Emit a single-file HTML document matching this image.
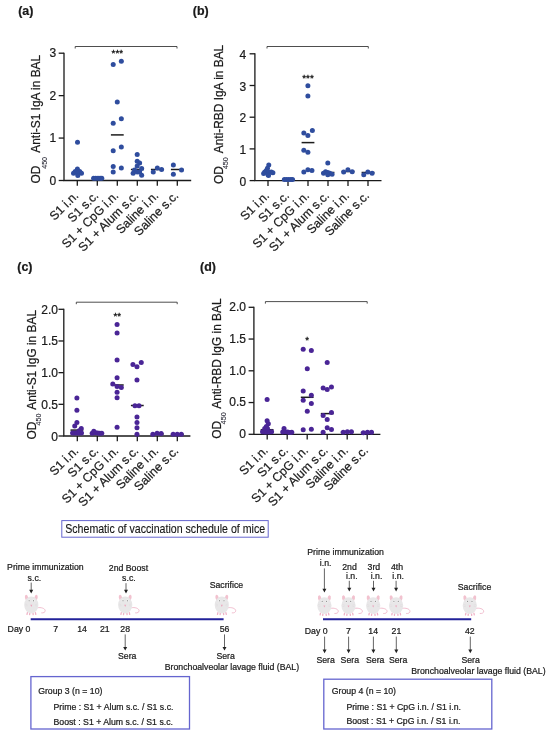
<!DOCTYPE html>
<html lang="en"><head><meta charset="utf-8"><title>Figure</title>
<style>
html,body{margin:0;padding:0;background:#fff;}
svg{display:block;font-family:"Liberation Sans", Arial, Helvetica, sans-serif;fill:#1a1a1a;}
text{stroke:#1a1a1a;stroke-width:0.22px;}
</style></head><body>
<svg width="550" height="738" viewBox="0 0 550 738">
<rect width="550" height="738" fill="#fff"/>
<text x="18.2" y="14.5" font-size="12.4" font-weight="bold">(a)</text>
<path d="M64.0 52.7V180.5H191.2" fill="none" stroke="#1a1a1a" stroke-width="1.3"/>
<path d="M58.7 180.50H64.0" stroke="#1a1a1a" stroke-width="1.3"/>
<text x="56.30" y="184.50" font-size="12" text-anchor="end">0</text>
<path d="M58.7 138.07H64.0" stroke="#1a1a1a" stroke-width="1.3"/>
<text x="56.30" y="142.07" font-size="12" text-anchor="end">1</text>
<path d="M58.7 95.63H64.0" stroke="#1a1a1a" stroke-width="1.3"/>
<text x="56.30" y="99.63" font-size="12" text-anchor="end">2</text>
<path d="M58.7 53.20H64.0" stroke="#1a1a1a" stroke-width="1.3"/>
<text x="56.30" y="57.20" font-size="12" text-anchor="end">3</text>
<path d="M77.3 180.5V185.8" stroke="#1a1a1a" stroke-width="1.3"/>
<text transform="translate(79.20 196.30) rotate(-45)" font-size="12.3" text-anchor="end">S1 i.n.</text>
<path d="M97.3 180.5V185.8" stroke="#1a1a1a" stroke-width="1.3"/>
<text transform="translate(99.20 196.30) rotate(-45)" font-size="12.3" text-anchor="end">S1 s.c.</text>
<path d="M117.3 180.5V185.8" stroke="#1a1a1a" stroke-width="1.3"/>
<text transform="translate(119.20 196.30) rotate(-45)" font-size="12.3" text-anchor="end">S1 + CpG i.n.</text>
<path d="M137.3 180.5V185.8" stroke="#1a1a1a" stroke-width="1.3"/>
<text transform="translate(139.20 196.30) rotate(-45)" font-size="12.3" text-anchor="end">S1 + Alum s.c.</text>
<path d="M157.3 180.5V185.8" stroke="#1a1a1a" stroke-width="1.3"/>
<text transform="translate(159.20 196.30) rotate(-45)" font-size="12.3" text-anchor="end">Saline i.n.</text>
<path d="M177.3 180.5V185.8" stroke="#1a1a1a" stroke-width="1.3"/>
<text transform="translate(179.20 196.30) rotate(-45)" font-size="12.3" text-anchor="end">Saline s.c.</text>
<g font-size="11.9"><text transform="translate(40.2 183.4) rotate(-90)">OD</text><text transform="translate(47.3 168.8) rotate(-90)" font-size="7.1" style="fill:#2a2a36;stroke:#2a2a36;stroke-width:0.1px">450</text><text transform="translate(40.2 152.7) rotate(-90)">Anti-S1 IgA in BAL</text></g>
<path d="M75.2 48.5V46.5H177V48.5" fill="none" stroke="#3a3a3a" stroke-width="0.9"/>
<text x="117.3" y="55.7" font-size="9.8" text-anchor="middle" style="fill:#111;stroke:#111;stroke-width:0.3px">***</text>
<path d="M110.90 134.90h12.8" stroke="#1c1c1c" stroke-width="1.5"/>
<path d="M130.90 169.50h12.8" stroke="#1c1c1c" stroke-width="1.5"/>
<path d="M150.90 169.50h12.8" stroke="#1c1c1c" stroke-width="1.5"/>
<path d="M170.90 169.50h12.8" stroke="#1c1c1c" stroke-width="1.5"/>
<circle cx="77.50" cy="142.30" r="2.5" fill="#2f4d9e"/>
<circle cx="77.40" cy="169.10" r="2.5" fill="#2f4d9e"/>
<circle cx="75.20" cy="171.60" r="2.5" fill="#2f4d9e"/>
<circle cx="79.70" cy="171.60" r="2.5" fill="#2f4d9e"/>
<circle cx="73.50" cy="173.30" r="2.5" fill="#2f4d9e"/>
<circle cx="77.50" cy="173.20" r="2.5" fill="#2f4d9e"/>
<circle cx="81.50" cy="173.30" r="2.5" fill="#2f4d9e"/>
<circle cx="77.80" cy="175.40" r="2.5" fill="#2f4d9e"/>
<circle cx="93.60" cy="178.20" r="2.5" fill="#2f4d9e"/>
<circle cx="95.80" cy="178.30" r="2.5" fill="#2f4d9e"/>
<circle cx="98.00" cy="178.30" r="2.5" fill="#2f4d9e"/>
<circle cx="100.10" cy="178.30" r="2.5" fill="#2f4d9e"/>
<circle cx="101.80" cy="178.20" r="2.5" fill="#2f4d9e"/>
<circle cx="113.21" cy="64.39" r="2.5" fill="#2f4d9e"/>
<circle cx="121.34" cy="61.34" r="2.5" fill="#2f4d9e"/>
<circle cx="117.28" cy="101.99" r="2.5" fill="#2f4d9e"/>
<circle cx="121.34" cy="118.66" r="2.5" fill="#2f4d9e"/>
<circle cx="113.21" cy="123.33" r="2.5" fill="#2f4d9e"/>
<circle cx="121.34" cy="147.11" r="2.5" fill="#2f4d9e"/>
<circle cx="113.21" cy="150.77" r="2.5" fill="#2f4d9e"/>
<circle cx="113.21" cy="166.42" r="2.5" fill="#2f4d9e"/>
<circle cx="121.34" cy="168.05" r="2.5" fill="#2f4d9e"/>
<circle cx="113.21" cy="172.11" r="2.5" fill="#2f4d9e"/>
<circle cx="137.20" cy="154.43" r="2.5" fill="#2f4d9e"/>
<circle cx="137.20" cy="161.34" r="2.5" fill="#2f4d9e"/>
<circle cx="139.63" cy="162.97" r="2.5" fill="#2f4d9e"/>
<circle cx="137.20" cy="166.02" r="2.5" fill="#2f4d9e"/>
<circle cx="141.67" cy="168.46" r="2.5" fill="#2f4d9e"/>
<circle cx="134.55" cy="170.08" r="2.5" fill="#2f4d9e"/>
<circle cx="133.13" cy="173.13" r="2.5" fill="#2f4d9e"/>
<circle cx="137.20" cy="172.11" r="2.5" fill="#2f4d9e"/>
<circle cx="139.63" cy="172.11" r="2.5" fill="#2f4d9e"/>
<circle cx="141.67" cy="175.16" r="2.5" fill="#2f4d9e"/>
<circle cx="153.25" cy="172.11" r="2.5" fill="#2f4d9e"/>
<circle cx="157.32" cy="168.05" r="2.5" fill="#2f4d9e"/>
<circle cx="161.59" cy="169.47" r="2.5" fill="#2f4d9e"/>
<circle cx="173.37" cy="165.00" r="2.5" fill="#2f4d9e"/>
<circle cx="181.50" cy="170.08" r="2.5" fill="#2f4d9e"/>
<circle cx="173.37" cy="174.15" r="2.5" fill="#2f4d9e"/>
<text x="192.8" y="14.6" font-size="12.4" font-weight="bold">(b)</text>
<path d="M254.9 53.3V180.6H381.5" fill="none" stroke="#1a1a1a" stroke-width="1.3"/>
<path d="M249.6 180.60H254.9" stroke="#1a1a1a" stroke-width="1.3"/>
<text x="246.10" y="185.60" font-size="12" text-anchor="end">0</text>
<path d="M249.6 148.90H254.9" stroke="#1a1a1a" stroke-width="1.3"/>
<text x="246.10" y="153.90" font-size="12" text-anchor="end">1</text>
<path d="M249.6 117.20H254.9" stroke="#1a1a1a" stroke-width="1.3"/>
<text x="246.10" y="122.20" font-size="12" text-anchor="end">2</text>
<path d="M249.6 85.50H254.9" stroke="#1a1a1a" stroke-width="1.3"/>
<text x="246.10" y="90.50" font-size="12" text-anchor="end">3</text>
<path d="M249.6 53.80H254.9" stroke="#1a1a1a" stroke-width="1.3"/>
<text x="246.10" y="58.80" font-size="12" text-anchor="end">4</text>
<path d="M268 180.6V185.9" stroke="#1a1a1a" stroke-width="1.3"/>
<text transform="translate(269.90 196.40) rotate(-45)" font-size="12.3" text-anchor="end">S1 i.n.</text>
<path d="M288 180.6V185.9" stroke="#1a1a1a" stroke-width="1.3"/>
<text transform="translate(289.90 196.40) rotate(-45)" font-size="12.3" text-anchor="end">S1 s.c.</text>
<path d="M308 180.6V185.9" stroke="#1a1a1a" stroke-width="1.3"/>
<text transform="translate(309.90 196.40) rotate(-45)" font-size="12.3" text-anchor="end">S1 + CpG i.n.</text>
<path d="M328 180.6V185.9" stroke="#1a1a1a" stroke-width="1.3"/>
<text transform="translate(329.90 196.40) rotate(-45)" font-size="12.3" text-anchor="end">S1 + Alum s.c.</text>
<path d="M348 180.6V185.9" stroke="#1a1a1a" stroke-width="1.3"/>
<text transform="translate(349.90 196.40) rotate(-45)" font-size="12.3" text-anchor="end">Saline i.n.</text>
<path d="M368 180.6V185.9" stroke="#1a1a1a" stroke-width="1.3"/>
<text transform="translate(369.90 196.40) rotate(-45)" font-size="12.3" text-anchor="end">Saline s.c.</text>
<g font-size="11.9"><text transform="translate(223.0 184.1) rotate(-90)">OD</text><text transform="translate(227.9 169.1) rotate(-90)" font-size="7.1" style="fill:#2a2a36;stroke:#2a2a36;stroke-width:0.1px">450</text><text transform="translate(223.0 153.2) rotate(-90)">Anti-RBD IgA in BAL</text></g>
<path d="M267 48.5V46.5H368.3V48.5" fill="none" stroke="#3a3a3a" stroke-width="0.9"/>
<text x="308" y="81.0" font-size="9.8" text-anchor="middle" style="fill:#111;stroke:#111;stroke-width:0.3px">***</text>
<path d="M301.60 142.60h12.8" stroke="#1c1c1c" stroke-width="1.5"/>
<path d="M321.60 172.50h12.8" stroke="#1c1c1c" stroke-width="1.5"/>
<path d="M341.60 171.50h12.8" stroke="#1c1c1c" stroke-width="1.5"/>
<path d="M361.60 172.50h12.8" stroke="#1c1c1c" stroke-width="1.5"/>
<circle cx="268.76" cy="165.11" r="2.5" fill="#2f4d9e"/>
<circle cx="267.45" cy="168.17" r="2.5" fill="#2f4d9e"/>
<circle cx="266.36" cy="170.57" r="2.5" fill="#2f4d9e"/>
<circle cx="264.72" cy="171.98" r="2.5" fill="#2f4d9e"/>
<circle cx="268.54" cy="171.98" r="2.5" fill="#2f4d9e"/>
<circle cx="271.26" cy="171.98" r="2.5" fill="#2f4d9e"/>
<circle cx="263.63" cy="173.62" r="2.5" fill="#2f4d9e"/>
<circle cx="267.99" cy="174.71" r="2.5" fill="#2f4d9e"/>
<circle cx="272.90" cy="172.75" r="2.5" fill="#2f4d9e"/>
<circle cx="268.54" cy="175.58" r="2.5" fill="#2f4d9e"/>
<circle cx="284.35" cy="179.62" r="2.5" fill="#2f4d9e"/>
<circle cx="286.53" cy="179.62" r="2.5" fill="#2f4d9e"/>
<circle cx="288.71" cy="179.62" r="2.5" fill="#2f4d9e"/>
<circle cx="290.89" cy="179.62" r="2.5" fill="#2f4d9e"/>
<circle cx="292.53" cy="179.62" r="2.5" fill="#2f4d9e"/>
<circle cx="307.89" cy="85.73" r="2.5" fill="#2f4d9e"/>
<circle cx="307.89" cy="95.89" r="2.5" fill="#2f4d9e"/>
<circle cx="312.36" cy="130.45" r="2.5" fill="#2f4d9e"/>
<circle cx="303.82" cy="132.89" r="2.5" fill="#2f4d9e"/>
<circle cx="307.89" cy="135.53" r="2.5" fill="#2f4d9e"/>
<circle cx="303.82" cy="150.16" r="2.5" fill="#2f4d9e"/>
<circle cx="307.89" cy="152.20" r="2.5" fill="#2f4d9e"/>
<circle cx="303.82" cy="172.11" r="2.5" fill="#2f4d9e"/>
<circle cx="307.89" cy="169.67" r="2.5" fill="#2f4d9e"/>
<circle cx="311.95" cy="170.49" r="2.5" fill="#2f4d9e"/>
<circle cx="327.80" cy="162.97" r="2.5" fill="#2f4d9e"/>
<circle cx="323.54" cy="173.13" r="2.5" fill="#2f4d9e"/>
<circle cx="325.57" cy="171.71" r="2.5" fill="#2f4d9e"/>
<circle cx="327.80" cy="172.52" r="2.5" fill="#2f4d9e"/>
<circle cx="329.84" cy="173.13" r="2.5" fill="#2f4d9e"/>
<circle cx="332.07" cy="174.15" r="2.5" fill="#2f4d9e"/>
<circle cx="327.80" cy="174.76" r="2.5" fill="#2f4d9e"/>
<circle cx="343.66" cy="172.11" r="2.5" fill="#2f4d9e"/>
<circle cx="347.93" cy="169.67" r="2.5" fill="#2f4d9e"/>
<circle cx="352.20" cy="171.71" r="2.5" fill="#2f4d9e"/>
<circle cx="363.78" cy="174.76" r="2.5" fill="#2f4d9e"/>
<circle cx="367.85" cy="172.11" r="2.5" fill="#2f4d9e"/>
<circle cx="372.11" cy="173.13" r="2.5" fill="#2f4d9e"/>
<text x="17.3" y="271.2" font-size="12.4" font-weight="bold">(c)</text>
<path d="M63.8 308.8V436.0H190.4" fill="none" stroke="#1a1a1a" stroke-width="1.3"/>
<path d="M58.5 436.00H63.8" stroke="#1a1a1a" stroke-width="1.3"/>
<text x="58.00" y="440.50" font-size="12" text-anchor="end">0</text>
<path d="M58.5 404.32H63.8" stroke="#1a1a1a" stroke-width="1.3"/>
<text x="58.00" y="408.82" font-size="12" text-anchor="end">0.5</text>
<path d="M58.5 372.65H63.8" stroke="#1a1a1a" stroke-width="1.3"/>
<text x="58.00" y="377.15" font-size="12" text-anchor="end">1.0</text>
<path d="M58.5 340.98H63.8" stroke="#1a1a1a" stroke-width="1.3"/>
<text x="58.00" y="345.48" font-size="12" text-anchor="end">1.5</text>
<path d="M58.5 309.30H63.8" stroke="#1a1a1a" stroke-width="1.3"/>
<text x="58.00" y="313.80" font-size="12" text-anchor="end">2.0</text>
<path d="M77.3 436.0V441.3" stroke="#1a1a1a" stroke-width="1.3"/>
<text transform="translate(79.20 451.50) rotate(-45)" font-size="12.3" text-anchor="end">S1 i.n.</text>
<path d="M97.3 436.0V441.3" stroke="#1a1a1a" stroke-width="1.3"/>
<text transform="translate(99.20 451.50) rotate(-45)" font-size="12.3" text-anchor="end">S1 s.c.</text>
<path d="M117.3 436.0V441.3" stroke="#1a1a1a" stroke-width="1.3"/>
<text transform="translate(119.20 451.50) rotate(-45)" font-size="12.3" text-anchor="end">S1 + CpG i.n.</text>
<path d="M137.3 436.0V441.3" stroke="#1a1a1a" stroke-width="1.3"/>
<text transform="translate(139.20 451.50) rotate(-45)" font-size="12.3" text-anchor="end">S1 + Alum s.c.</text>
<path d="M157.3 436.0V441.3" stroke="#1a1a1a" stroke-width="1.3"/>
<text transform="translate(159.20 451.50) rotate(-45)" font-size="12.3" text-anchor="end">Saline i.n.</text>
<path d="M177.3 436.0V441.3" stroke="#1a1a1a" stroke-width="1.3"/>
<text transform="translate(179.20 451.50) rotate(-45)" font-size="12.3" text-anchor="end">Saline s.c.</text>
<g font-size="11.9"><text transform="translate(35.5 439.6) rotate(-90)">OD</text><text transform="translate(41.1 425.4) rotate(-90)" font-size="7.1" style="fill:#2a2a36;stroke:#2a2a36;stroke-width:0.1px">450</text><text transform="translate(35.5 409.8) rotate(-90)">Anti-S1 IgG in BAL</text></g>
<path d="M76.3 304.2V302.2H177.2V304.2" fill="none" stroke="#3a3a3a" stroke-width="0.9"/>
<text x="117.3" y="318.8" font-size="9.8" text-anchor="middle" style="fill:#111;stroke:#111;stroke-width:0.3px">**</text>
<path d="M70.50 430.10h12.8" stroke="#1c1c1c" stroke-width="1.5"/>
<path d="M110.90 385.00h12.8" stroke="#1c1c1c" stroke-width="1.5"/>
<path d="M130.90 405.50h12.8" stroke="#1c1c1c" stroke-width="1.5"/>
<path d="M150.90 434.00h12.8" stroke="#1c1c1c" stroke-width="1.5"/>
<path d="M170.90 434.30h12.8" stroke="#1c1c1c" stroke-width="1.5"/>
<circle cx="76.90" cy="398.09" r="2.5" fill="#4a2596"/>
<circle cx="76.90" cy="410.30" r="2.5" fill="#4a2596"/>
<circle cx="76.90" cy="422.62" r="2.5" fill="#4a2596"/>
<circle cx="74.72" cy="426.11" r="2.5" fill="#4a2596"/>
<circle cx="81.26" cy="428.40" r="2.5" fill="#4a2596"/>
<circle cx="79.08" cy="430.80" r="2.5" fill="#4a2596"/>
<circle cx="72.54" cy="432.98" r="2.5" fill="#4a2596"/>
<circle cx="74.72" cy="432.98" r="2.5" fill="#4a2596"/>
<circle cx="76.90" cy="432.98" r="2.5" fill="#4a2596"/>
<circle cx="79.08" cy="432.98" r="2.5" fill="#4a2596"/>
<circle cx="81.48" cy="432.98" r="2.5" fill="#4a2596"/>
<circle cx="93.81" cy="431.35" r="2.5" fill="#4a2596"/>
<circle cx="92.17" cy="433.20" r="2.5" fill="#4a2596"/>
<circle cx="95.44" cy="432.76" r="2.5" fill="#4a2596"/>
<circle cx="97.62" cy="432.98" r="2.5" fill="#4a2596"/>
<circle cx="99.80" cy="433.20" r="2.5" fill="#4a2596"/>
<circle cx="101.77" cy="433.31" r="2.5" fill="#4a2596"/>
<circle cx="117.07" cy="324.55" r="2.5" fill="#4a2596"/>
<circle cx="117.07" cy="333.09" r="2.5" fill="#4a2596"/>
<circle cx="117.07" cy="360.12" r="2.5" fill="#4a2596"/>
<circle cx="117.07" cy="377.80" r="2.5" fill="#4a2596"/>
<circle cx="112.80" cy="383.90" r="2.5" fill="#4a2596"/>
<circle cx="117.07" cy="386.54" r="2.5" fill="#4a2596"/>
<circle cx="121.34" cy="387.56" r="2.5" fill="#4a2596"/>
<circle cx="117.07" cy="392.24" r="2.5" fill="#4a2596"/>
<circle cx="117.07" cy="397.72" r="2.5" fill="#4a2596"/>
<circle cx="117.07" cy="427.20" r="2.5" fill="#4a2596"/>
<circle cx="132.93" cy="364.39" r="2.5" fill="#4a2596"/>
<circle cx="141.26" cy="362.56" r="2.5" fill="#4a2596"/>
<circle cx="136.99" cy="366.83" r="2.5" fill="#4a2596"/>
<circle cx="136.99" cy="380.04" r="2.5" fill="#4a2596"/>
<circle cx="134.96" cy="405.85" r="2.5" fill="#4a2596"/>
<circle cx="139.02" cy="405.85" r="2.5" fill="#4a2596"/>
<circle cx="136.99" cy="417.03" r="2.5" fill="#4a2596"/>
<circle cx="136.99" cy="422.52" r="2.5" fill="#4a2596"/>
<circle cx="136.99" cy="427.80" r="2.5" fill="#4a2596"/>
<circle cx="136.99" cy="434.31" r="2.5" fill="#4a2596"/>
<circle cx="152.85" cy="434.31" r="2.5" fill="#4a2596"/>
<circle cx="157.11" cy="433.29" r="2.5" fill="#4a2596"/>
<circle cx="161.18" cy="433.50" r="2.5" fill="#4a2596"/>
<circle cx="173.17" cy="434.31" r="2.5" fill="#4a2596"/>
<circle cx="177.24" cy="434.31" r="2.5" fill="#4a2596"/>
<circle cx="181.30" cy="434.31" r="2.5" fill="#4a2596"/>
<text x="200.0" y="271.4" font-size="12.4" font-weight="bold">(d)</text>
<path d="M253.9 306.8V434.3H380.4" fill="none" stroke="#1a1a1a" stroke-width="1.3"/>
<path d="M248.6 434.30H253.9" stroke="#1a1a1a" stroke-width="1.3"/>
<text x="246.00" y="438.00" font-size="12" text-anchor="end">0</text>
<path d="M248.6 402.55H253.9" stroke="#1a1a1a" stroke-width="1.3"/>
<text x="246.00" y="406.25" font-size="12" text-anchor="end">0.5</text>
<path d="M248.6 370.80H253.9" stroke="#1a1a1a" stroke-width="1.3"/>
<text x="246.00" y="374.50" font-size="12" text-anchor="end">1.0</text>
<path d="M248.6 339.05H253.9" stroke="#1a1a1a" stroke-width="1.3"/>
<text x="246.00" y="342.75" font-size="12" text-anchor="end">1.5</text>
<path d="M248.6 307.30H253.9" stroke="#1a1a1a" stroke-width="1.3"/>
<text x="246.00" y="311.00" font-size="12" text-anchor="end">2.0</text>
<path d="M267.2 434.3V439.6" stroke="#1a1a1a" stroke-width="1.3"/>
<text transform="translate(268.80 451.10) rotate(-45)" font-size="12.3" text-anchor="end">S1 i.n.</text>
<path d="M287.2 434.3V439.6" stroke="#1a1a1a" stroke-width="1.3"/>
<text transform="translate(288.80 451.10) rotate(-45)" font-size="12.3" text-anchor="end">S1 s.c.</text>
<path d="M307.2 434.3V439.6" stroke="#1a1a1a" stroke-width="1.3"/>
<text transform="translate(308.80 451.10) rotate(-45)" font-size="12.3" text-anchor="end">S1 + CpG i.n.</text>
<path d="M327.2 434.3V439.6" stroke="#1a1a1a" stroke-width="1.3"/>
<text transform="translate(328.80 451.10) rotate(-45)" font-size="12.3" text-anchor="end">S1 + Alum s.c.</text>
<path d="M347.2 434.3V439.6" stroke="#1a1a1a" stroke-width="1.3"/>
<text transform="translate(348.80 451.10) rotate(-45)" font-size="12.3" text-anchor="end">Saline i.n.</text>
<path d="M367.2 434.3V439.6" stroke="#1a1a1a" stroke-width="1.3"/>
<text transform="translate(368.80 451.10) rotate(-45)" font-size="12.3" text-anchor="end">Saline s.c.</text>
<g font-size="11.9"><text transform="translate(221.1 438.8) rotate(-90)">OD</text><text transform="translate(226.1 424.2) rotate(-90)" font-size="7.1" style="fill:#2a2a36;stroke:#2a2a36;stroke-width:0.1px">450</text><text transform="translate(221.1 408.8) rotate(-90)">Anti-RBD IgG in BAL</text></g>
<path d="M265.4 303.6V301.6H367.2V303.6" fill="none" stroke="#3a3a3a" stroke-width="0.9"/>
<text x="307.2" y="342.6" font-size="9.8" text-anchor="middle" style="fill:#111;stroke:#111;stroke-width:0.3px">*</text>
<path d="M260.70 429.70h12.8" stroke="#1c1c1c" stroke-width="1.5"/>
<path d="M300.80 397.30h12.8" stroke="#1c1c1c" stroke-width="1.5"/>
<path d="M320.80 413.60h12.8" stroke="#1c1c1c" stroke-width="1.5"/>
<path d="M340.80 432.00h12.8" stroke="#1c1c1c" stroke-width="1.5"/>
<path d="M360.80 432.50h12.8" stroke="#1c1c1c" stroke-width="1.5"/>
<circle cx="267.12" cy="399.50" r="2.5" fill="#4a2596"/>
<circle cx="267.12" cy="420.77" r="2.5" fill="#4a2596"/>
<circle cx="268.32" cy="423.71" r="2.5" fill="#4a2596"/>
<circle cx="266.36" cy="426.44" r="2.5" fill="#4a2596"/>
<circle cx="264.72" cy="428.62" r="2.5" fill="#4a2596"/>
<circle cx="267.45" cy="428.62" r="2.5" fill="#4a2596"/>
<circle cx="262.54" cy="431.67" r="2.5" fill="#4a2596"/>
<circle cx="264.72" cy="431.89" r="2.5" fill="#4a2596"/>
<circle cx="266.90" cy="431.89" r="2.5" fill="#4a2596"/>
<circle cx="269.41" cy="431.89" r="2.5" fill="#4a2596"/>
<circle cx="271.59" cy="431.67" r="2.5" fill="#4a2596"/>
<circle cx="284.02" cy="428.40" r="2.5" fill="#4a2596"/>
<circle cx="282.72" cy="432.11" r="2.5" fill="#4a2596"/>
<circle cx="285.11" cy="431.67" r="2.5" fill="#4a2596"/>
<circle cx="287.62" cy="432.11" r="2.5" fill="#4a2596"/>
<circle cx="289.80" cy="432.55" r="2.5" fill="#4a2596"/>
<circle cx="291.77" cy="432.22" r="2.5" fill="#4a2596"/>
<circle cx="303.21" cy="349.35" r="2.5" fill="#4a2596"/>
<circle cx="311.34" cy="350.57" r="2.5" fill="#4a2596"/>
<circle cx="307.28" cy="368.86" r="2.5" fill="#4a2596"/>
<circle cx="303.21" cy="391.02" r="2.5" fill="#4a2596"/>
<circle cx="311.34" cy="395.28" r="2.5" fill="#4a2596"/>
<circle cx="303.21" cy="400.16" r="2.5" fill="#4a2596"/>
<circle cx="311.34" cy="403.41" r="2.5" fill="#4a2596"/>
<circle cx="307.28" cy="411.34" r="2.5" fill="#4a2596"/>
<circle cx="303.21" cy="429.84" r="2.5" fill="#4a2596"/>
<circle cx="311.34" cy="429.23" r="2.5" fill="#4a2596"/>
<circle cx="327.20" cy="362.56" r="2.5" fill="#4a2596"/>
<circle cx="323.13" cy="387.97" r="2.5" fill="#4a2596"/>
<circle cx="327.20" cy="389.59" r="2.5" fill="#4a2596"/>
<circle cx="331.46" cy="386.95" r="2.5" fill="#4a2596"/>
<circle cx="331.46" cy="412.56" r="2.5" fill="#4a2596"/>
<circle cx="323.13" cy="415.41" r="2.5" fill="#4a2596"/>
<circle cx="327.20" cy="419.47" r="2.5" fill="#4a2596"/>
<circle cx="327.20" cy="427.80" r="2.5" fill="#4a2596"/>
<circle cx="331.46" cy="429.43" r="2.5" fill="#4a2596"/>
<circle cx="323.13" cy="432.28" r="2.5" fill="#4a2596"/>
<circle cx="343.25" cy="432.28" r="2.5" fill="#4a2596"/>
<circle cx="347.32" cy="431.67" r="2.5" fill="#4a2596"/>
<circle cx="351.38" cy="431.87" r="2.5" fill="#4a2596"/>
<circle cx="363.37" cy="432.68" r="2.5" fill="#4a2596"/>
<circle cx="367.44" cy="432.28" r="2.5" fill="#4a2596"/>
<circle cx="371.50" cy="432.28" r="2.5" fill="#4a2596"/>
<rect x="61.8" y="520.6" width="206.4" height="16.6" fill="#fff" stroke="#6565cf" stroke-width="1"/>
<text x="65.2" y="532.8" font-size="11.9" style="fill:#151515;stroke:#151515;stroke-width:0.12px" textLength="200" lengthAdjust="spacingAndGlyphs">Schematic of vaccination schedule of mice</text>
<path d="M30.7 619.3H223.6" stroke="#22229a" stroke-width="2.1"/>
<g transform="translate(31.3 604.6)"><path d="M6.4 3.1C9.5 2.5 13.6 3.6 13.9 6C14 7.7 12.2 8.5 10.4 8.3" fill="none" stroke="#edb0c4" stroke-width="0.8" stroke-linecap="round"/><ellipse cx="-4.8" cy="-7.1" rx="1.6" ry="2.8" fill="#f2c2cf" transform="rotate(-10 -4.8 -7.1)"/><ellipse cx="4.8" cy="-7.1" rx="1.6" ry="2.8" fill="#f2c2cf" transform="rotate(10 4.8 -7.1)"/><path d="M-3.9 8l-.4 1.7M-1.5 8.6l-.2 1.5M1.7 8.6l.2 1.5M4.1 8l.4 1.7" stroke="#efb2c6" stroke-width="1.3" stroke-linecap="round"/><ellipse cx="0" cy="0.4" rx="7.1" ry="8.4" fill="#e8e7e8"/><circle cx="-2.3" cy="-3.9" r="1.15" fill="#f7f7f7"/><circle cx="2.3" cy="-3.9" r="1.15" fill="#f7f7f7"/><circle cx="-2.2" cy="-3.9" r="0.55" fill="#666"/><circle cx="2.2" cy="-3.9" r="0.55" fill="#666"/><path d="M-1 .2h2l-1 2.2z" fill="#eda3bb"/><path d="M-6.2 -.6l2.2.5M-6 1.4l2.1-.3M6.2 -.6l-2.2.5M6 1.4l-2.1-.3" stroke="#d8d4d6" stroke-width="0.35"/></g>
<g transform="translate(125.2 604.6)"><path d="M6.4 3.1C9.5 2.5 13.6 3.6 13.9 6C14 7.7 12.2 8.5 10.4 8.3" fill="none" stroke="#edb0c4" stroke-width="0.8" stroke-linecap="round"/><ellipse cx="-4.8" cy="-7.1" rx="1.6" ry="2.8" fill="#f2c2cf" transform="rotate(-10 -4.8 -7.1)"/><ellipse cx="4.8" cy="-7.1" rx="1.6" ry="2.8" fill="#f2c2cf" transform="rotate(10 4.8 -7.1)"/><path d="M-3.9 8l-.4 1.7M-1.5 8.6l-.2 1.5M1.7 8.6l.2 1.5M4.1 8l.4 1.7" stroke="#efb2c6" stroke-width="1.3" stroke-linecap="round"/><ellipse cx="0" cy="0.4" rx="7.1" ry="8.4" fill="#e8e7e8"/><circle cx="-2.3" cy="-3.9" r="1.15" fill="#f7f7f7"/><circle cx="2.3" cy="-3.9" r="1.15" fill="#f7f7f7"/><circle cx="-2.2" cy="-3.9" r="0.55" fill="#666"/><circle cx="2.2" cy="-3.9" r="0.55" fill="#666"/><path d="M-1 .2h2l-1 2.2z" fill="#eda3bb"/><path d="M-6.2 -.6l2.2.5M-6 1.4l2.1-.3M6.2 -.6l-2.2.5M6 1.4l-2.1-.3" stroke="#d8d4d6" stroke-width="0.35"/></g>
<g transform="translate(221.8 604.6)"><path d="M6.4 3.1C9.5 2.5 13.6 3.6 13.9 6C14 7.7 12.2 8.5 10.4 8.3" fill="none" stroke="#edb0c4" stroke-width="0.8" stroke-linecap="round"/><ellipse cx="-4.8" cy="-7.1" rx="1.6" ry="2.8" fill="#f2c2cf" transform="rotate(-10 -4.8 -7.1)"/><ellipse cx="4.8" cy="-7.1" rx="1.6" ry="2.8" fill="#f2c2cf" transform="rotate(10 4.8 -7.1)"/><path d="M-3.9 8l-.4 1.7M-1.5 8.6l-.2 1.5M1.7 8.6l.2 1.5M4.1 8l.4 1.7" stroke="#efb2c6" stroke-width="1.3" stroke-linecap="round"/><ellipse cx="0" cy="0.4" rx="7.1" ry="8.4" fill="#e8e7e8"/><circle cx="-2.3" cy="-3.9" r="1.15" fill="#f7f7f7"/><circle cx="2.3" cy="-3.9" r="1.15" fill="#f7f7f7"/><circle cx="-2.2" cy="-3.9" r="0.55" fill="#666"/><circle cx="2.2" cy="-3.9" r="0.55" fill="#666"/><path d="M-1 .2h2l-1 2.2z" fill="#eda3bb"/><path d="M-6.2 -.6l2.2.5M-6 1.4l2.1-.3M6.2 -.6l-2.2.5M6 1.4l-2.1-.3" stroke="#d8d4d6" stroke-width="0.35"/></g>
<text x="7.1" y="570.4" font-size="8.72" text-anchor="start">Prime immunization</text>
<text x="34.4" y="581.0" font-size="8.72" text-anchor="middle">s.c.</text>
<path d="M31.2 582.6V591.4" stroke="#222" stroke-width="0.7" fill="none"/><path d="M29.2 589.6999999999999L31.2 593.4L33.2 589.6999999999999z" fill="#222"/>
<text x="108.8" y="570.8" font-size="8.72" text-anchor="start">2nd Boost</text>
<text x="128.9" y="581.4" font-size="8.72" text-anchor="middle">s.c.</text>
<path d="M126 583.2V591.4" stroke="#222" stroke-width="0.7" fill="none"/><path d="M124 589.6999999999999L126 593.4L128 589.6999999999999z" fill="#222"/>
<text x="209.7" y="588.4" font-size="8.72" text-anchor="start">Sacrifice</text>
<text x="7.6" y="631.9" font-size="8.72" text-anchor="start">Day 0</text>
<text x="55.6" y="631.9" font-size="8.72" text-anchor="middle">7</text>
<text x="82" y="631.9" font-size="8.72" text-anchor="middle">14</text>
<text x="104.8" y="631.9" font-size="8.72" text-anchor="middle">21</text>
<text x="125.2" y="631.9" font-size="8.72" text-anchor="middle">28</text>
<text x="224.5" y="631.9" font-size="8.72" text-anchor="middle">56</text>
<path d="M125.2 634.4V648.6" stroke="#222" stroke-width="0.7" fill="none"/><path d="M123.2 646.9L125.2 650.6L127.2 646.9z" fill="#222"/>
<path d="M224.5 634.4V648.6" stroke="#222" stroke-width="0.7" fill="none"/><path d="M222.5 646.9L224.5 650.6L226.5 646.9z" fill="#222"/>
<text x="127.2" y="658.8" font-size="8.72" text-anchor="middle">Sera</text>
<text x="225.6" y="658.8" font-size="8.72" text-anchor="middle">Sera</text>
<text x="164.8" y="669.8" font-size="8.72" text-anchor="start">Bronchoalveolar lavage fluid (BAL)</text>
<rect x="30.9" y="676.6" width="158.6" height="52.4" fill="none" stroke="#6565cf" stroke-width="1.3"/>
<text x="38.2" y="694.4" font-size="8.72" text-anchor="start">Group 3 (n = 10)</text>
<text x="53.5" y="709.8" font-size="8.72" text-anchor="start">Prime : S1 + Alum s.c. / S1 s.c.</text>
<text x="53.5" y="725.2" font-size="8.72" text-anchor="start">Boost : S1 + Alum s.c. / S1 s.c.</text>
<path d="M323 619.3H471.2" stroke="#22229a" stroke-width="2.1"/>
<g transform="translate(324.4 605.2)"><path d="M6.4 3.1C9.5 2.5 13.6 3.6 13.9 6C14 7.7 12.2 8.5 10.4 8.3" fill="none" stroke="#edb0c4" stroke-width="0.8" stroke-linecap="round"/><ellipse cx="-4.8" cy="-7.1" rx="1.6" ry="2.8" fill="#f2c2cf" transform="rotate(-10 -4.8 -7.1)"/><ellipse cx="4.8" cy="-7.1" rx="1.6" ry="2.8" fill="#f2c2cf" transform="rotate(10 4.8 -7.1)"/><path d="M-3.9 8l-.4 1.7M-1.5 8.6l-.2 1.5M1.7 8.6l.2 1.5M4.1 8l.4 1.7" stroke="#efb2c6" stroke-width="1.3" stroke-linecap="round"/><ellipse cx="0" cy="0.4" rx="7.1" ry="8.4" fill="#e8e7e8"/><circle cx="-2.3" cy="-3.9" r="1.15" fill="#f7f7f7"/><circle cx="2.3" cy="-3.9" r="1.15" fill="#f7f7f7"/><circle cx="-2.2" cy="-3.9" r="0.55" fill="#666"/><circle cx="2.2" cy="-3.9" r="0.55" fill="#666"/><path d="M-1 .2h2l-1 2.2z" fill="#eda3bb"/><path d="M-6.2 -.6l2.2.5M-6 1.4l2.1-.3M6.2 -.6l-2.2.5M6 1.4l-2.1-.3" stroke="#d8d4d6" stroke-width="0.35"/></g>
<g transform="translate(348.5 605.2)"><path d="M6.4 3.1C9.5 2.5 13.6 3.6 13.9 6C14 7.7 12.2 8.5 10.4 8.3" fill="none" stroke="#edb0c4" stroke-width="0.8" stroke-linecap="round"/><ellipse cx="-4.8" cy="-7.1" rx="1.6" ry="2.8" fill="#f2c2cf" transform="rotate(-10 -4.8 -7.1)"/><ellipse cx="4.8" cy="-7.1" rx="1.6" ry="2.8" fill="#f2c2cf" transform="rotate(10 4.8 -7.1)"/><path d="M-3.9 8l-.4 1.7M-1.5 8.6l-.2 1.5M1.7 8.6l.2 1.5M4.1 8l.4 1.7" stroke="#efb2c6" stroke-width="1.3" stroke-linecap="round"/><ellipse cx="0" cy="0.4" rx="7.1" ry="8.4" fill="#e8e7e8"/><circle cx="-2.3" cy="-3.9" r="1.15" fill="#f7f7f7"/><circle cx="2.3" cy="-3.9" r="1.15" fill="#f7f7f7"/><circle cx="-2.2" cy="-3.9" r="0.55" fill="#666"/><circle cx="2.2" cy="-3.9" r="0.55" fill="#666"/><path d="M-1 .2h2l-1 2.2z" fill="#eda3bb"/><path d="M-6.2 -.6l2.2.5M-6 1.4l2.1-.3M6.2 -.6l-2.2.5M6 1.4l-2.1-.3" stroke="#d8d4d6" stroke-width="0.35"/></g>
<g transform="translate(373.2 605.2)"><path d="M6.4 3.1C9.5 2.5 13.6 3.6 13.9 6C14 7.7 12.2 8.5 10.4 8.3" fill="none" stroke="#edb0c4" stroke-width="0.8" stroke-linecap="round"/><ellipse cx="-4.8" cy="-7.1" rx="1.6" ry="2.8" fill="#f2c2cf" transform="rotate(-10 -4.8 -7.1)"/><ellipse cx="4.8" cy="-7.1" rx="1.6" ry="2.8" fill="#f2c2cf" transform="rotate(10 4.8 -7.1)"/><path d="M-3.9 8l-.4 1.7M-1.5 8.6l-.2 1.5M1.7 8.6l.2 1.5M4.1 8l.4 1.7" stroke="#efb2c6" stroke-width="1.3" stroke-linecap="round"/><ellipse cx="0" cy="0.4" rx="7.1" ry="8.4" fill="#e8e7e8"/><circle cx="-2.3" cy="-3.9" r="1.15" fill="#f7f7f7"/><circle cx="2.3" cy="-3.9" r="1.15" fill="#f7f7f7"/><circle cx="-2.2" cy="-3.9" r="0.55" fill="#666"/><circle cx="2.2" cy="-3.9" r="0.55" fill="#666"/><path d="M-1 .2h2l-1 2.2z" fill="#eda3bb"/><path d="M-6.2 -.6l2.2.5M-6 1.4l2.1-.3M6.2 -.6l-2.2.5M6 1.4l-2.1-.3" stroke="#d8d4d6" stroke-width="0.35"/></g>
<g transform="translate(396.1 605.2)"><path d="M6.4 3.1C9.5 2.5 13.6 3.6 13.9 6C14 7.7 12.2 8.5 10.4 8.3" fill="none" stroke="#edb0c4" stroke-width="0.8" stroke-linecap="round"/><ellipse cx="-4.8" cy="-7.1" rx="1.6" ry="2.8" fill="#f2c2cf" transform="rotate(-10 -4.8 -7.1)"/><ellipse cx="4.8" cy="-7.1" rx="1.6" ry="2.8" fill="#f2c2cf" transform="rotate(10 4.8 -7.1)"/><path d="M-3.9 8l-.4 1.7M-1.5 8.6l-.2 1.5M1.7 8.6l.2 1.5M4.1 8l.4 1.7" stroke="#efb2c6" stroke-width="1.3" stroke-linecap="round"/><ellipse cx="0" cy="0.4" rx="7.1" ry="8.4" fill="#e8e7e8"/><circle cx="-2.3" cy="-3.9" r="1.15" fill="#f7f7f7"/><circle cx="2.3" cy="-3.9" r="1.15" fill="#f7f7f7"/><circle cx="-2.2" cy="-3.9" r="0.55" fill="#666"/><circle cx="2.2" cy="-3.9" r="0.55" fill="#666"/><path d="M-1 .2h2l-1 2.2z" fill="#eda3bb"/><path d="M-6.2 -.6l2.2.5M-6 1.4l2.1-.3M6.2 -.6l-2.2.5M6 1.4l-2.1-.3" stroke="#d8d4d6" stroke-width="0.35"/></g>
<g transform="translate(469.8 605.2)"><path d="M6.4 3.1C9.5 2.5 13.6 3.6 13.9 6C14 7.7 12.2 8.5 10.4 8.3" fill="none" stroke="#edb0c4" stroke-width="0.8" stroke-linecap="round"/><ellipse cx="-4.8" cy="-7.1" rx="1.6" ry="2.8" fill="#f2c2cf" transform="rotate(-10 -4.8 -7.1)"/><ellipse cx="4.8" cy="-7.1" rx="1.6" ry="2.8" fill="#f2c2cf" transform="rotate(10 4.8 -7.1)"/><path d="M-3.9 8l-.4 1.7M-1.5 8.6l-.2 1.5M1.7 8.6l.2 1.5M4.1 8l.4 1.7" stroke="#efb2c6" stroke-width="1.3" stroke-linecap="round"/><ellipse cx="0" cy="0.4" rx="7.1" ry="8.4" fill="#e8e7e8"/><circle cx="-2.3" cy="-3.9" r="1.15" fill="#f7f7f7"/><circle cx="2.3" cy="-3.9" r="1.15" fill="#f7f7f7"/><circle cx="-2.2" cy="-3.9" r="0.55" fill="#666"/><circle cx="2.2" cy="-3.9" r="0.55" fill="#666"/><path d="M-1 .2h2l-1 2.2z" fill="#eda3bb"/><path d="M-6.2 -.6l2.2.5M-6 1.4l2.1-.3M6.2 -.6l-2.2.5M6 1.4l-2.1-.3" stroke="#d8d4d6" stroke-width="0.35"/></g>
<text x="307.3" y="555.4" font-size="8.72" text-anchor="start">Prime immunization</text>
<text x="325.6" y="566.0" font-size="8.72" text-anchor="middle">i.n.</text>
<path d="M324.4 568.4V590.4" stroke="#222" stroke-width="0.7" fill="none"/><path d="M322.4 588.6999999999999L324.4 592.4L326.4 588.6999999999999z" fill="#222"/>
<text x="342.2" y="569.9" font-size="8.72" text-anchor="start">2nd</text>
<text x="351.8" y="579.0" font-size="8.72" text-anchor="middle">i.n.</text>
<path d="M349.3 580.8V589.4" stroke="#222" stroke-width="0.7" fill="none"/><path d="M347.3 587.6999999999999L349.3 591.4L351.3 587.6999999999999z" fill="#222"/>
<text x="367.6" y="569.9" font-size="8.72" text-anchor="start">3rd</text>
<text x="376.5" y="579.0" font-size="8.72" text-anchor="middle">i.n.</text>
<path d="M373.5 580.8V589.4" stroke="#222" stroke-width="0.7" fill="none"/><path d="M371.5 587.6999999999999L373.5 591.4L375.5 587.6999999999999z" fill="#222"/>
<text x="391" y="569.9" font-size="8.72" text-anchor="start">4th</text>
<text x="398.1" y="579.0" font-size="8.72" text-anchor="middle">i.n.</text>
<path d="M396.1 580.8V589.4" stroke="#222" stroke-width="0.7" fill="none"/><path d="M394.1 587.6999999999999L396.1 591.4L398.1 587.6999999999999z" fill="#222"/>
<text x="457.8" y="590.4" font-size="8.72" text-anchor="start">Sacrifice</text>
<text x="304.8" y="633.5" font-size="8.72" text-anchor="start">Day 0</text>
<text x="348.5" y="633.5" font-size="8.72" text-anchor="middle">7</text>
<text x="373.2" y="633.5" font-size="8.72" text-anchor="middle">14</text>
<text x="396.4" y="633.5" font-size="8.72" text-anchor="middle">21</text>
<text x="469.8" y="633.5" font-size="8.72" text-anchor="middle">42</text>
<path d="M324.6 636.6V651.2" stroke="#222" stroke-width="0.7" fill="none"/><path d="M322.6 649.5L324.6 653.2L326.6 649.5z" fill="#222"/>
<path d="M348.6 636.6V651.2" stroke="#222" stroke-width="0.7" fill="none"/><path d="M346.6 649.5L348.6 653.2L350.6 649.5z" fill="#222"/>
<path d="M373.4 636.6V651.2" stroke="#222" stroke-width="0.7" fill="none"/><path d="M371.4 649.5L373.4 653.2L375.4 649.5z" fill="#222"/>
<path d="M396.3 636.6V651.2" stroke="#222" stroke-width="0.7" fill="none"/><path d="M394.3 649.5L396.3 653.2L398.3 649.5z" fill="#222"/>
<path d="M470.3 636.6V651.2" stroke="#222" stroke-width="0.7" fill="none"/><path d="M468.3 649.5L470.3 653.2L472.3 649.5z" fill="#222"/>
<text x="325.6" y="663.4" font-size="8.72" text-anchor="middle">Sera</text>
<text x="349.8" y="663.4" font-size="8.72" text-anchor="middle">Sera</text>
<text x="375.2" y="663.4" font-size="8.72" text-anchor="middle">Sera</text>
<text x="398.1" y="663.4" font-size="8.72" text-anchor="middle">Sera</text>
<text x="470.6" y="663.4" font-size="8.72" text-anchor="middle">Sera</text>
<text x="411.3" y="674.4" font-size="8.72" text-anchor="start">Bronchoalveolar lavage fluid (BAL)</text>
<rect x="323.8" y="679.2" width="168" height="49.8" fill="none" stroke="#6565cf" stroke-width="1.3"/>
<text x="331.8" y="694.2" font-size="8.72" text-anchor="start">Group 4 (n = 10)</text>
<text x="346.4" y="709.6" font-size="8.72" text-anchor="start">Prime : S1 + CpG i.n. / S1 i.n.</text>
<text x="346.4" y="724.4" font-size="8.72" text-anchor="start">Boost : S1 + CpG i.n. / S1 i.n.</text>
</svg></body></html>
